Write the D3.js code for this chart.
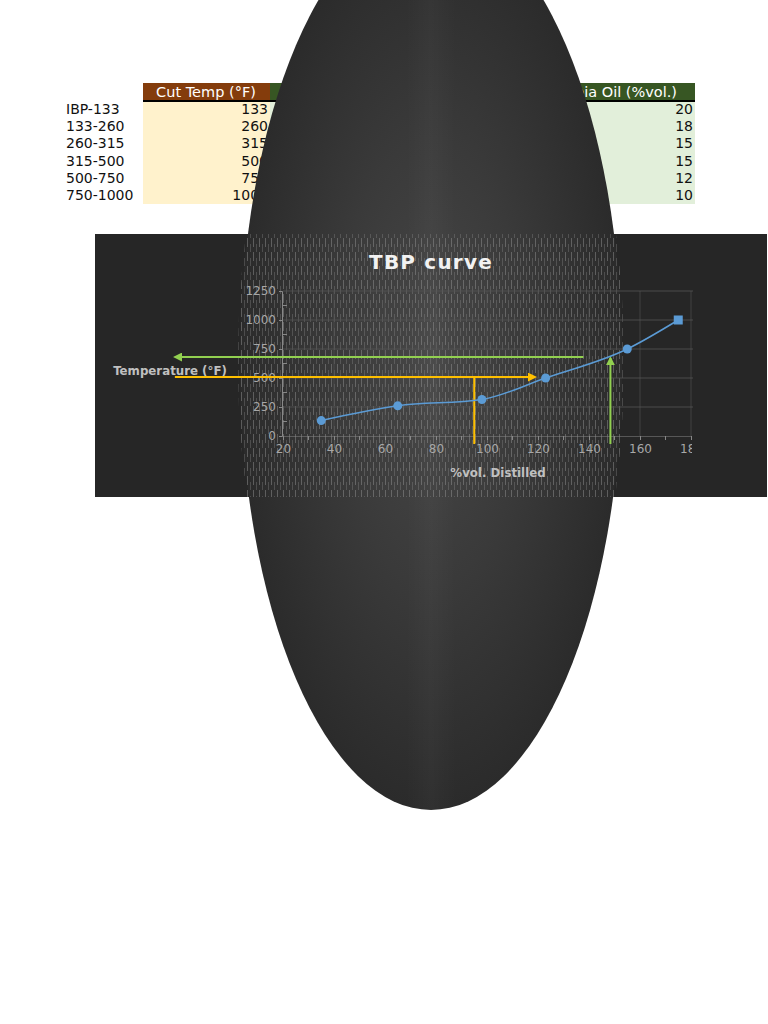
<!DOCTYPE html>
<html><head><meta charset="utf-8">
<script src="https://cdn.jsdelivr.net/npm/d3@7/dist/d3.min.js"></script>
<style>body{margin:0;background:#fff;}svg{display:block;font-family:"DejaVu Sans",sans-serif;}</style>
</head><body>
<script>
// ---- data ----
const cuts = ["IBP-133","133-260","260-315","315-500","500-750","750-1000"];
const cutTemps = [133,260,315,500,750,1000];
const oilVol = [20,18,15,15,12,10];
const distilled = [35,65,98,123,155,175];
const tempValues = [133,260,315,500,750,1000];
const xTicks = [20,40,60,80,100,120,140,160,180];
const yTicks = [0,250,500,750,1000,1250];
// annotation arrows in data units: [x1,y1,x2,y2,colour,arrowAtEnd]
const arrows = [
  [137.8,681,-22.4,681,"#92D050",true],
  [148.4,-69,148.4,672,"#92D050",true],
  [-22.4,508,118.9,508,"#FFC000",true],
  [95,508,95,-69,"#FFC000",false]
];

const W=768,H=1024;
const svg=d3.select("body").append("svg").attr("width",W).attr("height",H);
const defs=svg.append("defs");

// ---- table ----
const rowY=d3.scaleBand().domain(d3.range(cuts.length)).range([100,204]);
const tbl=svg.append("g");
tbl.append("rect").attr("x",143).attr("y",102).attr("width",127).attr("height",102).attr("fill","#FFF2CC");
tbl.append("rect").attr("x",270).attr("y",102).attr("width",425).attr("height",102).attr("fill","#E2EFDA");
tbl.append("rect").attr("x",143).attr("y",83).attr("width",127).attr("height",17).attr("fill","#843C0C");
tbl.append("rect").attr("x",270).attr("y",83).attr("width",425).attr("height",17).attr("fill","#375623");
tbl.append("rect").attr("x",143).attr("y",100).attr("width",552).attr("height",2).attr("fill","#000");
tbl.append("text").attr("x",206).attr("y",96.5).attr("text-anchor","middle").attr("fill","#fff").attr("font-size",14.5).text("Cut Temp (°F)");
tbl.append("text").attr("x",677).attr("y",96.5).attr("text-anchor","end").attr("fill","#fff").attr("font-size",14.5).text("Arabia Oil (%vol.)");
cuts.forEach((c,i)=>{
  const y=rowY(i)+rowY.bandwidth()/2+5;
  tbl.append("text").attr("x",66).attr("y",y).attr("font-size",14).attr("fill","#111").text(c);
  tbl.append("text").attr("x",268).attr("y",y).attr("font-size",14).attr("fill","#111").attr("text-anchor","end").text(cutTemps[i]);
  tbl.append("text").attr("x",693).attr("y",y).attr("font-size",14).attr("fill","#111").attr("text-anchor","end").text(oilVol[i]);
});

// ---- chart panel ----
const panel={x:95,y:234,w:672,h:263};
svg.append("rect").attr("x",panel.x).attr("y",panel.y).attr("width",panel.w).attr("height",panel.h).attr("fill","#262626");

// ---- ellipse overlay ----
const ell={cx:431,cy:362,rx:191,ry:448};
const rg=defs.append("radialGradient").attr("id","eg").attr("cx","50%").attr("cy","50%").attr("r","50%");
rg.append("stop").attr("offset","0%").attr("stop-color","#474747");
rg.append("stop").attr("offset","50%").attr("stop-color","#3a3a3a");
rg.append("stop").attr("offset","100%").attr("stop-color","#2b2b2b");
svg.append("ellipse").attr("cx",ell.cx).attr("cy",ell.cy).attr("rx",ell.rx).attr("ry",ell.ry).attr("fill","url(#eg)");
// subtle central streak
const lg=defs.append("linearGradient").attr("id","cg").attr("x1","0").attr("x2","1").attr("y1","0").attr("y2","0");
lg.append("stop").attr("offset","0%").attr("stop-color","#fff").attr("stop-opacity",0);
lg.append("stop").attr("offset","50%").attr("stop-color","#fff").attr("stop-opacity",0.025);
lg.append("stop").attr("offset","100%").attr("stop-color","#fff").attr("stop-opacity",0);
defs.append("clipPath").attr("id","ellClip").append("ellipse").attr("cx",ell.cx).attr("cy",ell.cy).attr("rx",ell.rx).attr("ry",ell.ry);
svg.append("rect").attr("x",ell.cx-25).attr("y",0).attr("width",50).attr("height",H).attr("fill","url(#cg)").attr("clip-path","url(#ellClip)");

// textured part inside panel
const pat=defs.append("pattern").attr("id","stripes").attr("patternUnits","userSpaceOnUse").attr("width",6).attr("height",14);
pat.append("rect").attr("x",1).attr("y",0).attr("width",1).attr("height",9).attr("fill","#9a9a9a").attr("opacity",0.45);
pat.append("rect").attr("x",4).attr("y",6).attr("width",1).attr("height",8).attr("fill","#9a9a9a").attr("opacity",0.3);
defs.append("clipPath").attr("id","ellClip2").append("ellipse").attr("cx",ell.cx).attr("cy",ell.cy).attr("rx",ell.rx+2).attr("ry",ell.ry);
const tg=svg.append("g").attr("clip-path","url(#ellClip2)");
tg.append("rect").attr("x",panel.x).attr("y",panel.y).attr("width",panel.w).attr("height",panel.h).attr("fill","url(#stripes)");

// ---- chart ----
const x=d3.scaleLinear().domain([20,180]).range([283,691]);
const y=d3.scaleLinear().domain([0,1250]).range([436,291]);
const g=svg.append("g");

svg.append("text").attr("x",431).attr("y",269).attr("text-anchor","middle").attr("fill","#f2f2f2")
  .attr("font-size",20).attr("font-weight","bold").attr("letter-spacing",1.2).text("TBP curve");

// grid
g.selectAll(".hg").data(yTicks.slice(1)).join("line").attr("x1",x(20)).attr("x2",x(180)+2)
  .attr("y1",d=>y(d)).attr("y2",d=>y(d)).attr("stroke","#555").attr("stroke-width",1).attr("opacity",0.8);
g.selectAll(".vg").data(xTicks.slice(1)).join("line").attr("x1",d=>x(d)).attr("x2",d=>x(d))
  .attr("y1",y(0)).attr("y2",y(1250)).attr("stroke","#555").attr("stroke-width",1).attr("opacity",0.6);

// axes
defs.append("clipPath").attr("id","lblClip").append("rect").attr("x",0).attr("y",0).attr("width",692).attr("height",H);
const xAxis=g.append("g").attr("transform",`translate(0,${y(0)})`).attr("clip-path","url(#lblClip)")
  .call(d3.axisBottom(x).tickValues(xTicks).tickSize(4).tickPadding(4).tickFormat(d3.format("d")));
xAxis.append("g").selectAll("line").data(d3.range(30,180,20)).join("line")
  .attr("x1",d=>x(d)).attr("x2",d=>x(d)).attr("y1",0).attr("y2",4).attr("stroke","#888");
const yAxis=g.append("g").attr("transform",`translate(${x(20)-1},0)`)
  .call(d3.axisLeft(y).tickValues(yTicks).tickSize(3).tickPadding(3).tickFormat(d3.format("d")));
yAxis.append("g").selectAll("line").data(d3.range(125,1250,250)).join("line")
  .attr("x1",0).attr("x2",5).attr("y1",d=>y(d)).attr("y2",d=>y(d)).attr("stroke","#888");
[xAxis,yAxis].forEach(a=>{
  a.select(".domain").attr("stroke","#888");
  a.selectAll(".tick line").attr("stroke","#888");
  a.selectAll("text").attr("fill","#a8a8a8").attr("font-size",12).attr("font-family","DejaVu Sans");
});
xAxis.select(".domain").attr("d",`M${x(20)},0H${x(180)+3}`);

g.append("text").attr("x",170).attr("y",375).attr("text-anchor","middle").attr("fill","#c0c0c0")
  .attr("font-size",11.8).attr("font-weight","bold").text("Temperature (°F)");
g.append("text").attr("x",498).attr("y",477).attr("text-anchor","middle").attr("fill","#c0c0c0")
  .attr("font-size",11.8).attr("font-weight","bold").text("%vol. Distilled");

// arrows
arrows.forEach((a,i)=>{
  const [x1,y1,x2,y2,col,head]=a;
  if(head){
    defs.append("marker").attr("id","ah"+i).attr("viewBox","0 0 10 10").attr("refX",8).attr("refY",5)
      .attr("markerWidth",4.5).attr("markerHeight",4.5).attr("orient","auto")
      .append("path").attr("d","M0,0L10,5L0,10z").attr("fill",col);
  }
  const l=g.append("line").attr("x1",x(x1)).attr("y1",y(y1)).attr("x2",x(x2)).attr("y2",y(y2))
    .attr("stroke",col).attr("stroke-width",2);
  if(head) l.attr("marker-end",`url(#ah${i})`);
});

// series
const pts=distilled.map((d,i)=>[d,tempValues[i]]);
g.append("path").datum(pts).attr("fill","none").attr("stroke","#5B9BD5").attr("stroke-width",1.5)
  .attr("d",d3.line().x(d=>x(d[0])).y(d=>y(d[1])).curve(d3.curveMonotoneX));
g.selectAll(".pt").data(pts.slice(0,-1)).join("circle").attr("cx",d=>x(d[0])).attr("cy",d=>y(d[1])).attr("r",4.5).attr("fill","#5B9BD5");
const last=pts[pts.length-1];
g.append("rect").attr("x",x(last[0])-4.5).attr("y",y(last[1])-4.5).attr("width",9).attr("height",9).attr("fill","#5B9BD5");
</script>
</body></html>
